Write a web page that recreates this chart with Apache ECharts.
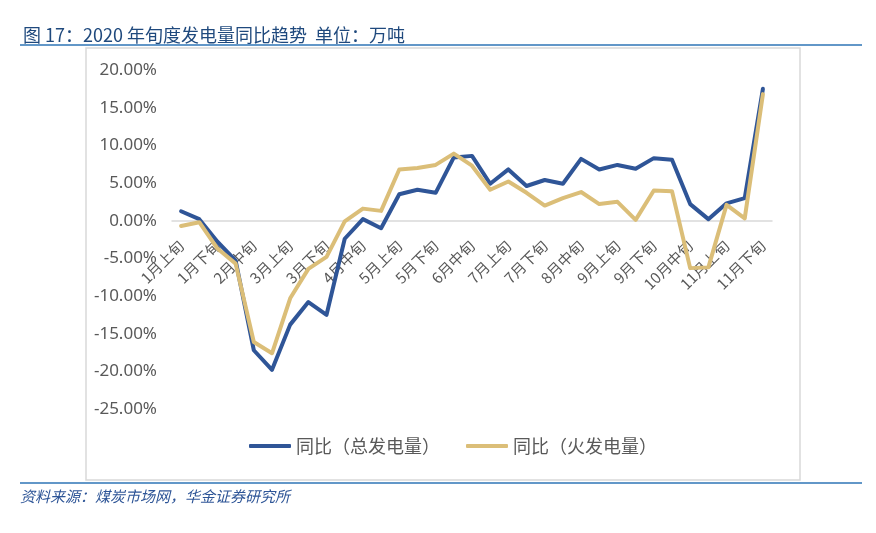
<!DOCTYPE html>
<html>
<head>
<meta charset="UTF-8">
<title>2020年旬度发电量同比趋势</title>
<script src="https://cdn.jsdelivr.net/npm/echarts@6/dist/echarts.min.js"></script>
<style>
html,body{margin:0;padding:0;background:#fff;}
#main{width:876px;height:533px;}
</style>
</head>
<body>
<div id="main"></div>
<script>
// 旬度
var categories = ['1月上旬','1月中旬','1月下旬','2月上旬','2月中旬','2月下旬',
	'3月上旬','3月中旬','3月下旬','4月上旬','4月中旬','4月下旬',
	'5月上旬','5月中旬','5月下旬','6月上旬','6月中旬','6月下旬',
	'7月上旬','7月中旬','7月下旬','8月上旬','8月中旬','8月下旬',
	'9月上旬','9月中旬','9月下旬','10月上旬','10月中旬','10月下旬',
	'11月上旬','11月中旬','11月下旬'];
// 同比（总发电量） %
var totalYoy = [1.25,0.2,-2.8,-5.3,-17.2,-19.8,-13.8,-10.8,-12.5,-2.4,0.2,-1.0,
	3.5,4.1,3.7,8.4,8.6,4.9,6.8,4.6,5.4,4.9,8.2,6.8,
	7.4,6.9,8.3,8.1,2.2,0.2,2.3,3.0,17.5];
// 同比（火发电量） %
var thermalYoy = [-0.7,-0.2,-3.7,-5.7,-16.1,-17.6,-10.3,-6.4,-4.8,-0.1,1.6,1.3,
	6.8,7.0,7.4,8.9,7.3,4.1,5.2,3.7,2.0,3.0,3.8,2.2,
	2.5,0.1,4.0,3.9,-6.3,-6.2,2.1,0.3,16.8];

var chart = echarts.init(document.getElementById('main'));
var option = {
	backgroundColor: '#fff',
	animation: false,
	title: {
		text: '图 17：2020 年旬度发电量同比趋势  单位：万吨',
		left: 18,
		top: 21,
		textStyle: {color: '#1F497D', fontSize: 18, fontWeight: 'normal', fontFamily: 'Noto Sans CJK SC'}
	},
	graphic: [
		{type: 'line', shape: {x1: 20, y1: 45, x2: 862, y2: 45}, style: {stroke: '#2E75B6', lineWidth: 1.5}},
		{type: 'rect', shape: {x: 86, y: 48, width: 714, height: 432}, style: {fill: 'none', stroke: '#D9D9D9', lineWidth: 1.5}},
		{type: 'line', shape: {x1: 20, y1: 483, x2: 862, y2: 483}, style: {stroke: '#2E75B6', lineWidth: 1.5}},
		{type: 'text', left: 20, top: 489, style: {text: '资料来源：煤炭市场网，华金证券研究所', fill: '#2E5597', fontSize: 15, fontStyle: 'italic', fontFamily: 'Noto Sans CJK SC'}}
	],
	grid: {left: 172, right: 104, top: 70, bottom: 124},
	legend: {
		data: ['同比（总发电量）', '同比（火发电量）'],
		left: 244,
		top: 432,
		itemWidth: 42,
		itemHeight: 4,
		itemGap: 26,
		icon: 'roundRect',
		textStyle: {color: '#595959', fontSize: 18, fontFamily: 'Noto Sans CJK SC'}
	},
	xAxis: {
		type: 'category',
		data: categories,
		offset: -188,
		axisLine: {onZero: false, lineStyle: {color: '#D9D9D9', width: 1.5}},
		axisTick: {show: false},
		axisLabel: {
			interval: 1,
			rotate: 45,
			color: '#595959',
			fontSize: 15,
			margin: 22,
			fontFamily: 'Noto Sans CJK SC'
		}
	},
	yAxis: {
		type: 'value',
		min: -25,
		max: 20,
		interval: 5,
		axisLine: {show: false},
		axisTick: {show: false},
		splitLine: {show: false},
		axisLabel: {
			color: '#595959',
			fontSize: 17,
			margin: 15,
			fontFamily: 'Noto Sans',
			formatter: function (v) { return v.toFixed(2) + '%'; }
		}
	},
	series: [
		{
			name: '同比（总发电量）',
			type: 'line',
			data: totalYoy,
			symbol: 'none',
			lineStyle: {color: '#2F5597', width: 4, cap: 'round', join: 'round'},
			itemStyle: {color: '#2F5597'}
		},
		{
			name: '同比（火发电量）',
			type: 'line',
			data: thermalYoy,
			symbol: 'none',
			lineStyle: {color: '#DBBE78', width: 4, cap: 'round', join: 'round'},
			itemStyle: {color: '#DBBE78'}
		}
	]
};
chart.setOption(option);
</script>
</body>
</html>
